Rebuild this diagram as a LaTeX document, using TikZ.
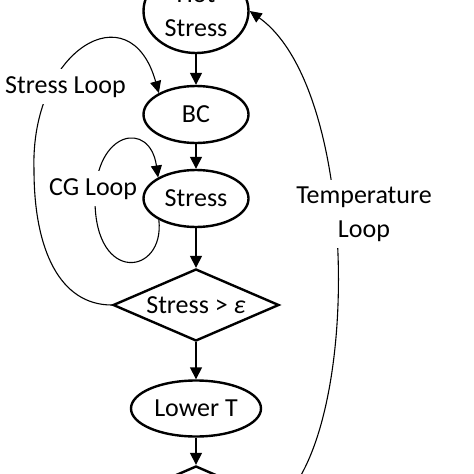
\documentclass[tikz,border=0pt]{standalone}
\usepackage{fontspec}
\setmainfont{Carlito}
\usetikzlibrary{shapes.geometric,arrows.meta}
\begin{document}
\begin{tikzpicture}[x=1pt,y=1pt,
  every node/.style={font=\fontsize{26}{34}\selectfont},
  oval/.style={draw,ellipse,line width=2.4pt,inner sep=0pt,minimum width=105pt,minimum height=57pt},
  decision/.style={draw,diamond,line width=2.4pt,inner sep=0pt,aspect=2.3,minimum width=166pt,minimum height=72pt},
  flow/.style={line width=1.5pt,-{Triangle[width=12pt,length=12pt]}},
  loopline/.style={line width=1.1pt,-{Triangle[width=11pt,length=12pt]}},
  looplabel/.style={fill=white,inner xsep=3pt,inner ysep=7pt}]
\useasboundingbox (0,0) rectangle (474,-474);
\clip (0,0) rectangle (474,-474);
\fill[white] (0,0) rectangle (474,-474);
\node[oval,minimum height=84pt,align=center] (top) at (196,-11) {Hot\\Stress};
\node[oval] (bc) at (196,-114.5) {BC};
\node[oval] (st) at (196,-198.5) {Stress};
\node[decision] (d1) at (196,-305) {Stress > \textit{ε}};
\node[oval,minimum width=130pt,minimum height=56pt] (lt) at (196,-408.5) {Lower T};
\node[decision] (d2) at (196,-502) {};
\draw[flow] (top) -- (bc);
\draw[flow] (bc) -- (st);
\draw[flow] (st) -- (d1);
\draw[flow] (d1) -- (lt);
\draw[flow] (lt) -- (d2);
\draw[loopline] (d1.west) .. controls (60,-305) and (34,-250) .. (34,-170)
  .. controls (30,-50) and (130,10) .. (bc.150);
\draw[loopline] (st.-150) .. controls (165,-275) and (95,-285) .. (95,-200)
  .. controls (95,-130) and (150,-120) .. (st.151);
\draw[loopline] (d2.east) .. controls (362,-430) and (360,-90) .. (top.east);
\node[looplabel,anchor=base west] (sl) at (2,-93) {Stress Loop};
\node[looplabel,anchor=base west] (cg) at (46,-195) {CG Loop};
\node[looplabel,align=center] (tl) at (364,-214) {Temperature\\Loop};
\end{tikzpicture}
\end{document}
